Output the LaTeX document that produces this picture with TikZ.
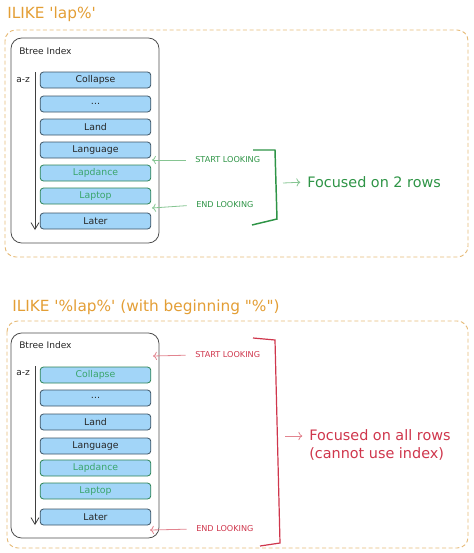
\documentclass[tikz,border=0pt]{standalone}
\usepackage{fontspec}
\setmainfont{DejaVu Sans}[Ligatures=TeXOff]
\usetikzlibrary{positioning,arrows.meta}
\definecolor{titleorange}{HTML}{E39E35}
\definecolor{frameorange}{HTML}{E6BB78}
\definecolor{rowblue}{HTML}{A2D5F8}
\definecolor{rowedge}{HTML}{3E5566}
\definecolor{hitgreen}{HTML}{3AA56C}
\definecolor{okgreen}{HTML}{2E9446}
\definecolor{lightgreen}{HTML}{86C592}
\definecolor{badred}{HTML}{CF364C}
\definecolor{lightred}{HTML}{E2848F}

\begin{document}
\begin{tikzpicture}[x=0.75pt,y=-0.75pt,
  every node/.style = {inner sep=0pt},
  title/.style = {anchor=west, text=titleorange, font=\fontsize{11.5}{13}\selectfont},
  frame/.style = {draw=frameorange, dash pattern=on 3pt off 2pt, rounded corners=8pt, line width=0.7pt},
  btree/.style = {draw=black!70, rounded corners=8pt, line width=0.6pt},
  small/.style = {anchor=west, text=black!85, font=\fontsize{6.8}{8}\selectfont},
  row/.style = {shape=rectangle, rounded corners=2.5pt, draw=rowedge, fill=rowblue,
    line width=0.6pt, text=black!85, minimum width=83pt, minimum height=12pt,
    font=\fontsize{7}{8}\selectfont},
  hit/.style = {row, draw=hitgreen!80!black, text=hitgreen},
  look/.style = {anchor=west, font=\fontsize{6.1}{7}\selectfont},
  focus/.style = {anchor=west, align=left, font=\fontsize{10.8}{14}\selectfont},
  scan/.style = {-{Straight Barb[length=5pt,width=6pt]}, black!75, line width=0.6pt}]
\useasboundingbox (0,0) rectangle (474,553);

% ILIKE 'lap%'
\node[title] (title1) at (7,14) {ILIKE 'lap\%'};
\draw[frame] (5,30) rectangle (468,257);
\draw[btree] (11,38) rectangle (159,243);
\node[small] (index1) at (19,51) {Btree Index};
\node[small] (az1) at (16,80) {a-z};
\draw[scan] (35,72) -- (35,230);
\foreach \name/\txt/\y/\sty in {a/Collapse/80/row, b/{\ldots}/104/row, c/Land/127/row,
    d/Language/150/row, e/Lapdance/173/hit, f/Laptop/196/hit, g/Later/221/row}
  \node[\sty] (top\name) at (95.5,\y) {\txt};

\node[look, text=okgreen] (start1) at (195,160) {START LOOKING};
\node[look, text=okgreen] (end1) at (196,205) {END LOOKING};
\coordinate (start1tip) at (152,160);
\coordinate (end1tip) at (152,208);
\draw[->, lightgreen, line width=0.6pt, shorten <=7pt] (start1.west) -- (start1tip);
\draw[->, lightgreen, line width=0.6pt, shorten <=7pt] (end1.west) -- (end1tip);
\draw[okgreen, line width=1.1pt] (253,150) -- (275,150) -- (277,219) -- (252,225);
\node[focus, text=okgreen] (focus1) at (307,182) {Focused on 2 rows};
\coordinate (focus1from) at (283,183);
\draw[->, lightgreen, line width=0.6pt, shorten >=5pt] (focus1from) -- (focus1.west);

% ILIKE '%lap%'
\node[title] (title2) at (12,307) {ILIKE '\%lap\%' (with beginning "\%")};
\draw[frame] (7,321) rectangle (468,548);
\draw[btree] (11,333) rectangle (159,538);
\node[small] (index2) at (19,345) {Btree Index};
\node[small] (az2) at (16,373) {a-z};
\draw[scan] (35,366) -- (35,525);
\foreach \name/\txt/\y/\sty in {a/Collapse/375/hit, b/{\ldots}/398/row, c/Land/422/row,
    d/Language/446/row, e/Lapdance/468/hit, f/Laptop/491/hit, g/Later/517/row}
  \node[\sty] (bot\name) at (95.5,\y) {\txt};

\node[look, text=badred] (start2) at (195,355) {START LOOKING};
\node[look, text=badred] (end2) at (196,529) {END LOOKING};
\coordinate (start2tip) at (153,356);
\coordinate (end2tip) at (150,530);
\draw[->, lightred, line width=0.6pt, shorten <=7pt] (start2.west) -- (start2tip);
\draw[->, lightred, line width=0.6pt, shorten <=7pt] (end2.west) -- (end2tip);
\draw[badred, line width=0.9pt] (253,338) -- (275,340) -- (280,543) -- (260,546);
\node[focus, text=badred] (focus2) at (309,445) {Focused on all rows\\(cannot use index)};
\coordinate (focus2from) at (285,436);
\draw[->, lightred, line width=0.6pt, shorten >=5pt] (focus2from) -- (focus2.west |- focus2from);
\end{tikzpicture}
\end{document}
